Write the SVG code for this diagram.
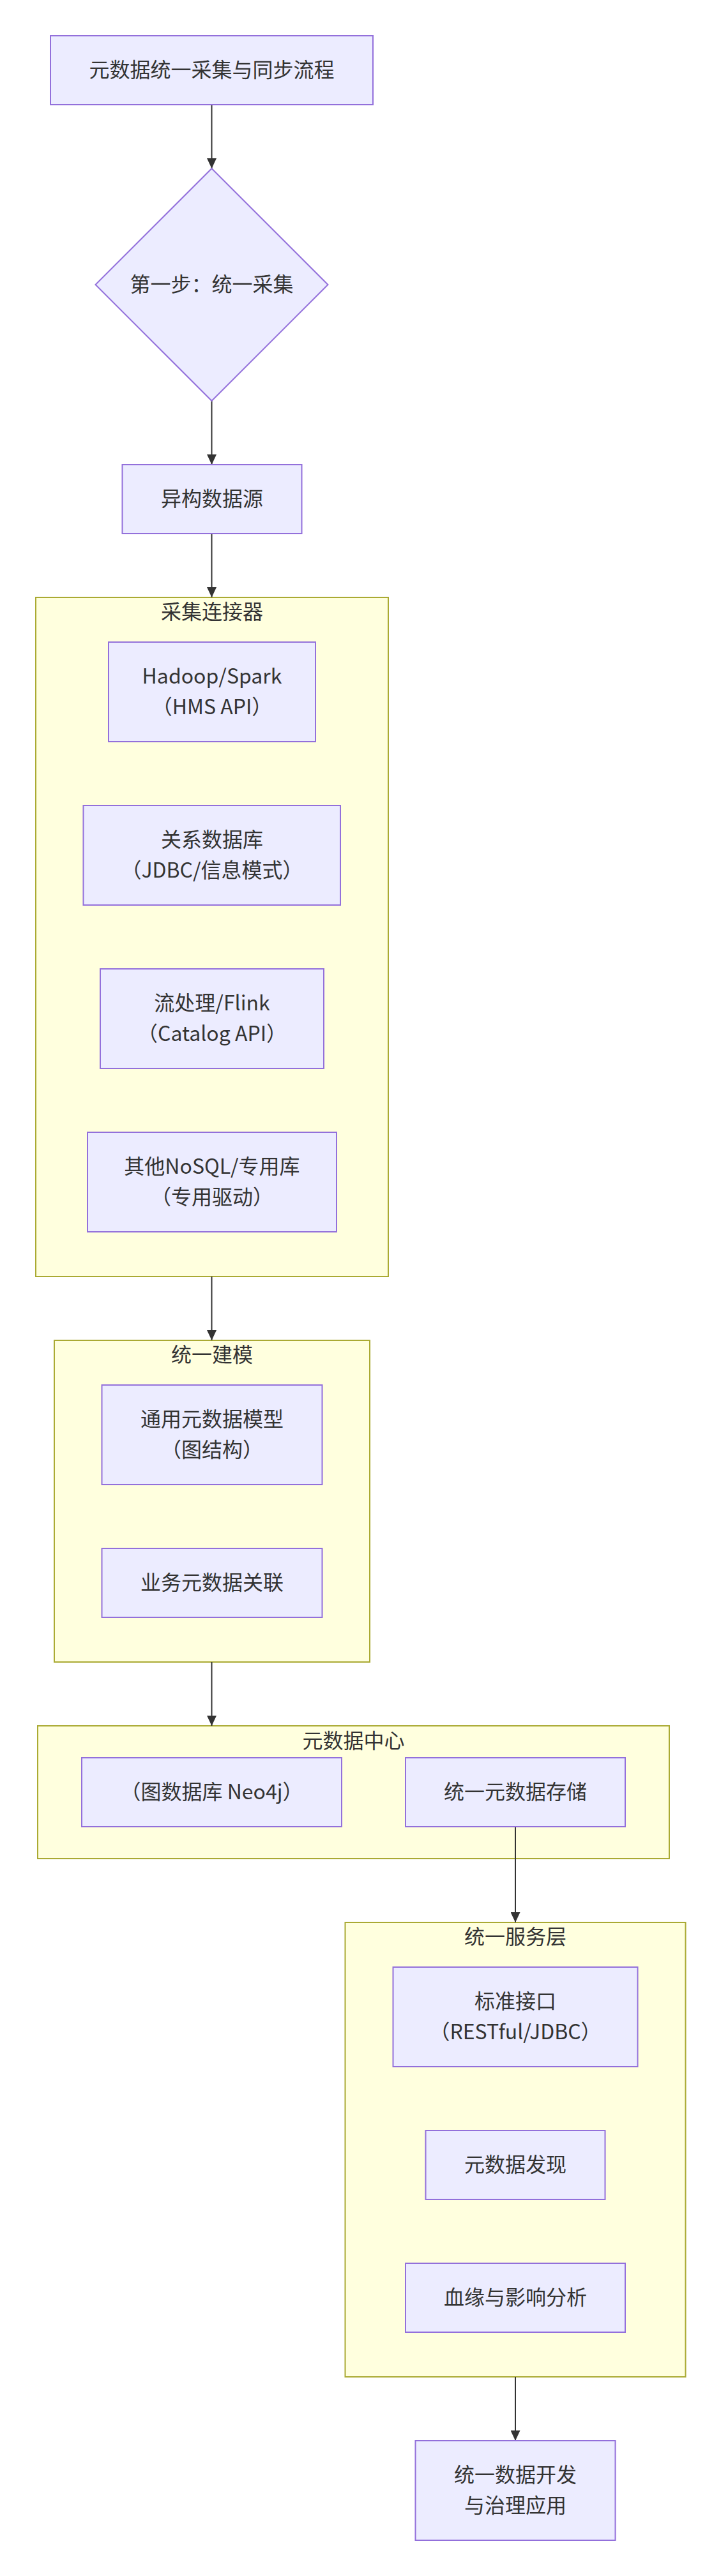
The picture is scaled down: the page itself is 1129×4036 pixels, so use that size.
<svg xmlns="http://www.w3.org/2000/svg" width="1129" height="4036" viewBox="0 0 1129 4036">
<style>
.node rect, .node polygon { fill: #ECECFF; stroke: #9370DB; stroke-width: 2; }
.cluster rect { fill: #FFFFDE; stroke: #AAAA33; stroke-width: 2; }
text { font-family: "Noto Sans CJK SC", "Noto Sans", sans-serif; font-size: 32px; fill: #333333; text-anchor: middle; }
.edge { stroke: #333333; stroke-width: 2; fill: none; marker-end: url(#arrow); }
</style>
<defs>
<marker id="arrow" markerUnits="userSpaceOnUse" markerWidth="16" markerHeight="15" refX="16" refY="7.5" orient="auto">
<path d="M0,0 L16,7.5 L0,15 Z" fill="#333333"/>
</marker>
</defs>
<rect width="1129" height="4036" fill="#ffffff"/>

<g id="clusters">
<g id="cluster-collect" class="cluster">
<rect x="56" y="936" width="552" height="1064"/>
<text x="332" y="970">采集连接器</text>
</g>
<g id="cluster-model" class="cluster">
<rect x="85" y="2100" width="494" height="504"/>
<text x="332" y="2134">统一建模</text>
</g>
<g id="cluster-center" class="cluster">
<rect x="59" y="2704" width="989" height="208"/>
<text x="553.5" y="2739">元数据中心</text>
</g>
<g id="cluster-service" class="cluster">
<rect x="540.5" y="3012" width="533" height="712"/>
<text x="807" y="3046">统一服务层</text>
</g>
</g>

<g id="connectors">
<line class="edge" x1="331.5" y1="164" x2="331.5" y2="264"/>
<line class="edge" x1="331.5" y1="628" x2="331.5" y2="728"/>
<line class="edge" x1="331.5" y1="836" x2="331.5" y2="936"/>
<line class="edge" x1="331.5" y1="2000" x2="331.5" y2="2100"/>
<line class="edge" x1="331.5" y1="2604" x2="331.5" y2="2704"/>
<line class="edge" x1="807" y1="2862" x2="807" y2="3012"/>
<line class="edge" x1="807" y1="3724" x2="807" y2="3824"/>
</g>

<g id="node-title" class="node">
<rect x="79" y="56" width="505" height="108"/>
<text x="331.5" y="121">元数据统一采集与同步流程</text>
</g>
<g id="node-step1" class="node">
<polygon points="331.5,264 513.5,446 331.5,628 149.5,446"/>
<text x="331.5" y="457">第一步：统一采集</text>
</g>
<g id="node-sources" class="node">
<rect x="191.5" y="728" width="281" height="108"/>
<text x="332" y="793">异构数据源</text>
</g>
<g id="node-hadoop" class="node">
<rect x="170" y="1006" width="324" height="156"/>
<text x="332" y="1071">Hadoop/Spark</text>
<text x="332" y="1119">（HMS API）</text>
</g>
<g id="node-rdb" class="node">
<rect x="130.5" y="1262" width="402.5" height="156"/>
<text x="332" y="1327">关系数据库</text>
<text x="332" y="1375">（JDBC/信息模式）</text>
</g>
<g id="node-flink" class="node">
<rect x="157" y="1518" width="350" height="156"/>
<text x="332" y="1583">流处理/Flink</text>
<text x="332" y="1631">（Catalog API）</text>
</g>
<g id="node-nosql" class="node">
<rect x="137" y="1774" width="390" height="156"/>
<text x="332" y="1839">其他NoSQL/专用库</text>
<text x="332" y="1887">（专用驱动）</text>
</g>
<g id="node-generic-model" class="node">
<rect x="159.5" y="2170" width="345" height="156"/>
<text x="332" y="2235">通用元数据模型</text>
<text x="332" y="2283">（图结构）</text>
</g>
<g id="node-biz" class="node">
<rect x="159.5" y="2426" width="345" height="108"/>
<text x="332" y="2491">业务元数据关联</text>
</g>
<g id="node-neo4j" class="node">
<rect x="128" y="2754" width="407" height="108"/>
<text x="331.5" y="2819">（图数据库 Neo4j）</text>
</g>
<g id="node-store" class="node">
<rect x="635" y="2754" width="344" height="108"/>
<text x="807" y="2819">统一元数据存储</text>
</g>
<g id="node-api" class="node">
<rect x="615.5" y="3082" width="383" height="156"/>
<text x="807" y="3147">标准接口</text>
<text x="807" y="3195">（RESTful/JDBC）</text>
</g>
<g id="node-discover" class="node">
<rect x="666.5" y="3338" width="281" height="108"/>
<text x="807" y="3403">元数据发现</text>
</g>
<g id="node-lineage" class="node">
<rect x="635" y="3546" width="344" height="108"/>
<text x="807" y="3611">血缘与影响分析</text>
</g>
<g id="node-app" class="node">
<rect x="650.5" y="3824" width="313" height="156"/>
<text x="807" y="3889">统一数据开发</text>
<text x="807" y="3937">与治理应用</text>
</g>
</svg>
